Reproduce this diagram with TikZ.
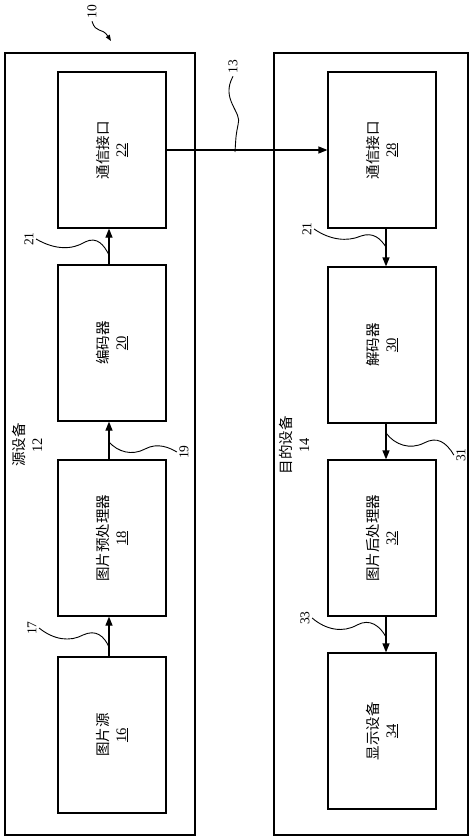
\documentclass[tikz,border=0pt]{standalone}
\usepackage{fontspec}
\setmainfont{Liberation Serif}
\newfontfamily\cjk{Noto Sans CJK SC}
\usetikzlibrary{arrows.meta,positioning}

\begin{document}
\begin{tikzpicture}[x=1pt,y=-1pt,
  line width=1.2pt,
  every node/.style={font=\fontsize{14.5}{18}\selectfont},
  dev/.style={draw,minimum height=782pt,inner sep=0pt},
  blk/.style={draw,rotate=90,minimum width=156pt,minimum height=108pt,inner sep=0pt,align=center},
  grp/.style={rotate=90,inner sep=1pt,align=center},
  lbl/.style={rotate=90,inner sep=2pt,font=\fontsize{13.5}{15}\selectfont},
  arr/.style={-{Triangle[length=9pt,width=7pt]}},
  lead/.style={line width=0.9pt}
]
\useasboundingbox (0,0) rectangle (474,840);

% the two devices
\node[dev,minimum width=190pt] (srcdev) at (100,444) {};
\node[dev,minimum width=194pt] (dstdev) at (371,444) {};
\node[grp] (srclbl) at (27,445) {{\cjk 源设备}\\12};
\node[grp] (dstlbl) at (294,445) {{\cjk 目的设备}\\14};

% source side
\node[blk] (comm) at (112,150) {{\cjk 通信接口}\\\underline{22}};
\node[blk] (enc) at (112,343) {{\cjk 编码器}\\\underline{20}};
\node[blk] (pre) at (112,538) {{\cjk 图片预处理器}\\\underline{18}};
\node[blk] (src) at (112,735) {{\cjk 图片源}\\\underline{16}};

% destination side
\node[blk] (comm2) at (382,150) {{\cjk 通信接口}\\\underline{28}};
\node[blk] (dec) at (382,345) {{\cjk 解码器}\\\underline{30}};
\node[blk] (post) at (382,538) {{\cjk 图片后处理器}\\\underline{32}};
\node[blk] (disp) at (382,731) {{\cjk 显示设备}\\\underline{34}};

% data flow
\draw[arr] ([xshift=-3pt]src.east) -- ([xshift=-3pt]pre.west);
\draw[arr] ([xshift=-3pt]pre.east) -- ([xshift=-3pt]enc.west);
\draw[arr] ([xshift=-3pt]enc.east) -- ([xshift=-3pt]comm.west);
\draw[arr] (comm.south) -- (comm2.north);
\draw[arr] ([xshift=4pt]comm2.west) -- ([xshift=4pt]dec.east);
\draw[arr] ([xshift=4pt]dec.west) -- ([xshift=4pt]post.east);
\draw[arr] ([xshift=4pt]post.west) -- ([xshift=4pt]disp.east);

% reference numerals
\node[lbl] (l10) at (92,12) {10};
\node[lbl] (l13) at (233,67) {13};
\node[lbl] (l21a) at (29,239) {21};
\node[lbl] (l21b) at (307,229) {21};
\node[lbl] (l19) at (184,452) {19};
\node[lbl] (l31) at (461,455) {31};
\node[lbl] (l17) at (32,628) {17};
\node[lbl] (l33) at (305,618) {33};

\coordinate (c10) at (111,41);
\coordinate (c13) at (235,152);
\coordinate (c21a) at (109,255);
\coordinate (c21b) at (386,247);
\coordinate (c19) at (109,442);
\coordinate (c31) at (386,433);
\coordinate (c17) at (109,647);
\coordinate (c33) at (386,637);

\draw[lead,-{Triangle[length=6pt,width=4.5pt]}] (l10.west) .. controls (96,34) and (102,27) .. (c10);
\draw[lead] (l13.west) .. controls (220,100) and (243,112) .. (238,125) .. controls (236,135) .. (c13);
\draw[lead] (l21a.south) .. controls (55,250) and (72,250) .. (85,242) .. controls (97,236) and (104,245) .. (c21a);
\draw[lead] (l21b.south) .. controls (330,240) and (347,242) .. (361,236) .. controls (373,232) and (380,238) .. (c21b);
\draw[lead] (c19) .. controls (118,452) and (132,456) .. (145,449) .. controls (158,442) and (170,448) .. (l19.north);
\draw[lead] (c31) .. controls (395,445) and (410,450) .. (424,443) .. controls (437,436) and (446,442) .. (l31.north);
\draw[lead] (l17.south) .. controls (54,640) and (70,642) .. (83,635) .. controls (96,629) and (104,636) .. (c17);
\draw[lead] (l33.south) .. controls (326,630) and (343,633) .. (357,625) .. controls (370,618) and (380,626) .. (c33);
\end{tikzpicture}
\end{document}
